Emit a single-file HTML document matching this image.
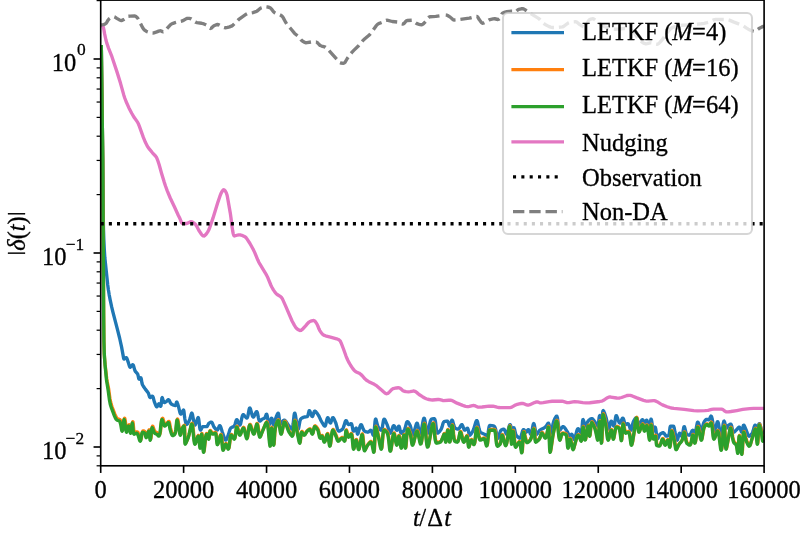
<!DOCTYPE html>
<html lang="en"><head><meta charset="utf-8"><title>LETKF vs Nudging error</title>
<style>html,body{margin:0;padding:0;background:#fff}body{width:800px;height:537px;overflow:hidden}svg text{white-space:pre}</style></head>
<body>
<svg width="800" height="537" viewBox="0 0 800 537" style="display:block">
<rect width="800" height="537" fill="#fff"/>
<defs><clipPath id="ax"><rect x="100.7" y="0.1" width="663.4" height="465.7"/></clipPath></defs>
<g clip-path="url(#ax)" fill="none" stroke-linejoin="round">
<path d="M101.30 45.00 L102.74 157.69 L103.26 215.79 L103.47 228.39 L103.80 238.89 L104.30 249.38 L104.84 257.75 L107.74 284.91 L108.37 289.76 L109.15 294.59 L110.21 300.10 L111.67 306.94 L112.99 312.39 L117.42 329.32 L119.60 338.00 L121.60 347.10 L123.56 357.88 L123.73 358.58 L123.94 359.02 L124.10 359.10 L124.23 359.05 L125.45 357.99 L126.02 357.61 L126.41 357.71 L126.74 358.11 L127.31 359.48 L128.36 362.61 L129.31 365.90 L129.84 367.01 L130.20 367.20 L130.58 366.99 L132.20 365.03 L132.65 364.71 L132.97 364.80 L133.26 365.13 L133.73 366.33 L134.60 369.69 L135.17 371.14 L135.55 371.71 L137.04 373.27 L137.47 373.81 L137.79 374.40 L138.02 375.15 L138.69 378.46 L138.90 378.97 L139.20 379.20 L139.58 378.90 L140.65 377.71 L140.90 377.80 L141.26 378.73 L141.93 382.95 L142.20 384.00 L142.62 384.99 L143.69 386.81 L145.30 389.14 L147.49 391.90 L148.27 393.05 L148.59 393.72 L149.61 396.88 L149.90 397.38 L150.30 397.60 L150.74 397.37 L151.98 396.25 L152.30 396.10 L152.71 396.35 L153.20 397.49 L154.28 401.56 L155.77 405.45 L156.43 406.55 L156.77 406.78 L157.13 406.67 L157.50 406.08 L158.30 404.43 L158.70 403.88 L158.90 403.80 L159.10 403.89 L159.54 404.48 L160.37 406.06 L160.60 406.30 L160.82 406.09 L160.98 405.62 L161.23 404.09 L161.84 398.47 L161.97 397.93 L162.20 397.60 L162.49 398.11 L163.51 401.61 L163.84 402.27 L164.21 402.59 L164.70 402.50 L166.30 401.60 L168.15 399.67 L168.59 399.64 L168.97 399.97 L169.32 400.55 L170.35 402.84 L170.90 403.60 L171.83 404.31 L173.10 404.98 L174.54 405.46 L175.30 405.60 L175.56 405.43 L175.85 404.76 L176.51 402.20 L176.76 402.01 L177.02 402.28 L177.55 403.61 L178.76 407.56 L179.93 412.57 L180.37 413.66 L180.61 413.97 L180.90 414.10 L181.19 413.90 L181.58 413.32 L183.17 410.21 L183.41 410.00 L183.58 410.11 L183.73 410.41 L184.06 412.18 L184.52 416.57 L184.88 419.01 L185.81 423.14 L186.28 424.28 L186.54 424.49 L186.84 424.41 L187.62 423.54 L188.49 422.11 L189.50 420.10 L190.09 418.41 L191.16 414.27 L191.55 413.30 L191.80 413.10 L192.13 413.42 L192.49 414.47 L194.02 422.77 L194.39 424.18 L194.78 424.99 L195.00 425.10 L195.23 424.95 L195.49 424.51 L197.76 417.99 L198.10 417.60 L198.34 417.81 L198.63 418.74 L198.87 420.24 L199.76 427.94 L200.06 429.30 L200.43 430.03 L200.64 430.09 L200.92 429.76 L202.12 427.44 L202.61 426.83 L203.10 426.60 L206.62 426.60 L207.09 426.39 L207.49 425.87 L208.60 423.67 L209.05 423.14 L210.34 422.38 L211.00 422.14 L211.50 422.13 L211.90 422.40 L212.25 422.90 L213.47 425.94 L214.10 427.10 L215.75 429.12 L216.80 429.99 L217.24 430.10 L217.63 429.83 L218.00 429.21 L219.32 425.95 L219.70 425.60 L219.92 425.66 L220.19 425.91 L220.46 426.34 L220.97 427.60 L222.20 431.77 L224.61 438.79 L225.18 439.85 L225.46 440.13 L225.76 440.19 L226.06 440.00 L226.38 439.56 L227.36 437.37 L228.50 434.40 L229.71 430.11 L230.21 428.88 L230.88 427.91 L231.44 427.55 L233.53 426.61 L234.07 426.23 L234.45 425.75 L235.05 424.31 L235.98 420.94 L236.44 419.84 L236.80 419.60 L237.01 419.69 L237.34 420.11 L239.10 424.23 L239.43 424.80 L239.80 425.10 L239.99 425.03 L240.24 424.75 L240.67 423.62 L242.00 417.15 L242.44 415.63 L242.97 414.74 L243.30 414.60 L243.66 414.77 L246.36 417.86 L246.80 418.10 L247.05 418.01 L247.31 417.68 L247.55 417.15 L247.97 415.62 L249.17 409.17 L249.55 408.18 L249.80 408.00 L249.98 408.09 L250.20 408.42 L250.43 408.96 L251.88 414.31 L252.41 415.93 L252.97 416.93 L253.26 417.10 L253.58 416.96 L253.93 416.50 L255.47 413.21 L256.20 411.89 L256.60 411.60 L256.80 411.67 L257.05 411.97 L257.27 412.49 L257.68 414.00 L258.43 417.85 L258.86 419.57 L259.38 420.75 L259.68 421.04 L260.03 421.08 L260.48 420.78 L261.63 419.68 L262.50 419.00 L264.50 418.20 L265.10 417.34 L266.27 414.32 L266.50 414.10 L266.70 414.22 L267.07 415.09 L267.38 416.60 L268.47 424.01 L268.79 424.94 L268.97 425.10 L269.18 424.97 L269.64 423.86 L270.93 419.30 L271.18 418.63 L271.42 418.21 L271.60 418.10 L271.85 418.36 L272.05 418.91 L273.18 424.29 L273.37 424.84 L273.56 425.09 L273.76 425.02 L273.95 424.69 L274.34 423.49 L275.38 419.25 L276.49 416.17 L277.44 413.91 L277.98 413.14 L278.19 413.13 L278.55 413.79 L278.83 415.15 L279.57 420.98 L279.87 422.65 L280.23 423.77 L280.44 424.05 L280.69 424.08 L281.02 423.77 L282.43 421.68 L283.49 420.39 L283.98 420.11 L284.44 420.15 L284.89 420.37 L285.78 421.23 L288.91 425.87 L290.93 428.44 L291.37 428.90 L291.68 429.10 L291.90 429.03 L292.29 428.41 L292.78 426.52 L293.16 423.85 L294.07 415.24 L294.40 413.55 L294.65 413.11 L294.79 413.14 L295.07 413.67 L295.50 415.45 L296.99 425.01 L297.45 427.40 L297.77 428.49 L297.92 428.85 L298.20 429.10 L298.39 428.94 L298.67 428.09 L299.86 421.39 L300.31 419.90 L300.70 419.10 L301.36 418.44 L301.96 418.04 L303.36 417.37 L304.75 416.99 L306.94 416.69 L307.36 416.49 L307.68 416.02 L307.95 415.31 L308.99 411.10 L309.22 410.69 L309.40 410.60 L309.76 410.91 L310.06 411.48 L311.62 415.77 L311.93 416.33 L312.24 416.59 L312.53 416.47 L312.80 415.99 L313.89 412.50 L314.19 411.75 L314.51 411.25 L314.86 411.10 L315.26 411.26 L315.71 411.63 L316.71 412.79 L318.50 415.42 L319.17 416.64 L320.95 420.48 L322.50 423.22 L323.80 425.28 L324.56 426.03 L324.88 426.09 L325.16 425.87 L325.42 425.41 L325.89 423.93 L326.95 419.24 L327.40 417.97 L327.64 417.66 L327.90 417.63 L328.18 417.97 L329.70 422.14 L330.01 422.76 L330.40 423.10 L330.60 423.00 L330.89 422.55 L332.31 418.31 L332.61 417.78 L332.92 417.60 L333.24 417.76 L333.93 418.75 L335.90 423.23 L337.47 428.99 L337.96 430.27 L338.55 431.05 L338.90 431.19 L339.33 431.15 L339.92 430.92 L341.30 430.11 L342.46 429.15 L342.83 428.64 L343.17 428.01 L343.76 426.45 L345.19 421.65 L345.71 420.78 L346.10 420.60 L346.32 420.72 L346.65 421.24 L347.71 423.73 L348.13 424.35 L348.60 424.60 L349.19 424.44 L351.10 423.60 L351.46 423.80 L351.73 424.29 L351.96 424.99 L353.02 430.39 L353.24 430.92 L353.51 431.18 L353.84 431.07 L354.30 430.54 L355.77 428.35 L356.10 428.10 L356.33 428.31 L356.69 429.69 L357.27 433.44 L357.42 434.00 L357.60 434.20 L357.80 434.06 L358.22 433.13 L360.13 426.04 L360.67 424.91 L361.10 424.60 L361.49 424.87 L361.77 425.34 L363.30 429.27 L364.06 430.66 L364.49 431.12 L365.00 431.43 L366.37 431.97 L367.76 432.20 L368.40 431.96 L370.21 430.41 L370.70 430.20 L371.09 430.40 L371.48 430.95 L373.00 434.97 L373.19 435.20 L373.36 435.12 L373.51 434.87 L373.79 433.96 L374.12 431.74 L375.07 421.23 L375.39 419.54 L375.52 419.25 L375.70 419.10 L375.96 419.42 L376.12 419.87 L377.31 424.65 L378.11 426.93 L378.46 427.53 L379.50 428.86 L380.62 429.92 L381.20 430.20 L381.61 429.92 L381.83 429.48 L382.22 428.11 L383.28 421.45 L383.61 420.00 L384.00 419.19 L384.23 419.10 L384.49 419.25 L384.79 419.61 L385.46 420.81 L387.43 425.42 L387.95 426.96 L389.12 431.16 L389.58 432.42 L389.83 432.86 L390.08 433.12 L390.30 433.20 L390.60 433.01 L391.15 431.90 L392.89 426.66 L393.21 426.07 L393.53 425.70 L393.80 425.60 L394.22 425.88 L394.60 426.47 L396.20 429.67 L396.57 430.11 L396.80 430.20 L397.25 429.75 L398.48 426.45 L398.75 426.11 L399.01 426.22 L399.46 427.31 L400.27 431.05 L400.74 432.60 L401.01 433.05 L401.30 433.20 L401.73 433.04 L402.25 432.65 L403.39 431.46 L404.30 430.20 L404.62 429.58 L405.15 428.05 L406.39 423.09 L406.84 422.02 L407.10 421.71 L407.40 421.60 L407.73 421.73 L408.59 422.70 L409.49 424.16 L410.20 425.60 L410.87 427.84 L412.01 433.67 L412.34 434.65 L412.52 434.92 L412.72 435.00 L412.93 434.88 L413.15 434.56 L413.61 433.45 L416.09 424.59 L416.56 423.50 L416.79 423.20 L417.00 423.10 L417.21 423.22 L417.41 423.55 L417.81 424.75 L419.30 432.20 L419.66 433.53 L419.84 433.95 L420.10 434.20 L420.37 434.00 L420.55 433.68 L421.07 431.97 L423.09 420.80 L423.58 418.88 L423.91 418.21 L424.10 418.10 L424.40 418.40 L424.87 419.95 L426.72 431.02 L427.21 432.74 L427.55 433.19 L427.72 433.16 L427.88 432.96 L428.32 431.55 L429.53 424.53 L430.36 421.13 L430.89 419.90 L431.19 419.46 L431.60 419.10 L432.01 418.95 L434.14 418.60 L434.42 418.72 L434.90 419.44 L435.28 420.70 L435.57 422.36 L436.58 430.94 L437.07 432.72 L437.28 433.04 L437.52 433.19 L437.80 433.14 L438.20 432.88 L439.20 431.86 L440.27 430.50 L441.20 429.10 L442.00 427.09 L443.06 423.23 L443.61 422.12 L443.94 421.75 L444.36 421.54 L445.01 421.37 L446.60 421.14 L447.20 421.10 L447.62 421.31 L447.99 421.88 L448.32 422.68 L449.16 425.32 L449.43 425.89 L449.70 426.10 L449.97 425.90 L450.24 425.37 L451.46 420.95 L451.71 420.37 L452.00 420.10 L452.20 420.19 L452.44 420.51 L452.66 421.02 L453.77 425.13 L454.33 426.77 L454.65 427.43 L455.20 428.10 L456.07 428.57 L457.57 429.03 L458.20 429.10 L458.72 428.92 L459.21 428.43 L459.68 427.74 L460.94 425.41 L461.33 424.87 L461.71 424.61 L462.08 424.71 L462.41 425.15 L462.73 425.84 L463.94 429.30 L464.29 429.88 L464.67 430.18 L465.13 430.08 L466.88 428.34 L467.30 428.10 L467.62 428.28 L467.90 428.76 L468.13 429.47 L469.11 434.06 L469.34 434.71 L469.59 435.11 L469.80 435.20 L470.25 434.98 L471.14 433.94 L472.84 431.12 L473.74 428.95 L475.90 421.81 L476.34 420.93 L476.56 420.69 L476.80 420.60 L477.01 420.68 L477.21 420.93 L477.57 421.85 L479.18 429.35 L479.67 430.87 L480.27 432.03 L480.63 432.43 L481.14 432.77 L484.40 434.20 L486.48 435.56 L486.90 435.70 L487.22 435.56 L487.48 435.20 L487.70 434.65 L488.06 433.10 L488.93 427.39 L489.34 426.04 L489.59 425.62 L489.89 425.41 L491.78 425.59 L493.39 425.90 L494.00 426.10 L494.64 426.73 L495.22 427.94 L495.70 429.55 L497.21 436.59 L497.59 437.69 L497.79 438.02 L498.10 438.20 L498.46 437.88 L498.67 437.41 L499.96 432.52 L500.54 431.01 L501.10 430.20 L501.92 429.66 L502.65 429.33 L503.60 429.10 L503.84 429.15 L504.27 429.53 L505.04 431.01 L506.03 433.52 L506.33 434.03 L506.60 434.20 L506.90 434.05 L507.17 433.68 L507.66 432.38 L509.24 426.02 L509.71 424.90 L510.10 424.60 L510.22 424.66 L510.47 425.10 L511.26 427.74 L511.56 428.53 L511.89 429.02 L512.10 429.10 L512.28 429.02 L513.35 427.75 L513.60 427.60 L514.02 427.83 L514.48 428.83 L515.62 433.80 L516.18 435.16 L517.08 436.33 L518.29 437.47 L518.88 437.89 L519.70 438.20 L520.19 437.96 L520.82 436.89 L522.65 430.82 L522.94 430.21 L523.27 429.79 L523.62 429.61 L524.03 429.76 L525.53 431.75 L526.03 432.16 L526.20 432.20 L526.49 432.07 L526.94 431.47 L527.79 429.93 L528.18 429.60 L528.56 429.80 L529.29 431.18 L530.28 433.70 L530.56 434.13 L530.70 434.20 L531.05 433.94 L531.28 433.50 L531.69 432.12 L533.10 424.78 L533.46 423.79 L533.70 423.60 L534.02 423.96 L534.37 425.10 L535.82 432.47 L536.27 433.71 L536.52 434.07 L536.80 434.20 L537.09 434.05 L537.44 433.62 L539.21 430.83 L539.80 430.20 L540.84 429.55 L544.03 427.94 L545.30 427.10 L546.19 426.04 L547.90 423.39 L548.30 423.10 L548.46 423.16 L548.69 423.45 L549.09 424.63 L550.31 431.99 L550.60 433.01 L550.76 433.19 L550.93 433.15 L551.24 432.64 L551.54 431.65 L552.96 424.21 L553.57 421.80 L554.06 420.42 L555.16 418.04 L555.93 416.72 L556.27 416.30 L556.60 416.10 L556.77 416.16 L556.98 416.40 L557.48 418.02 L558.75 427.42 L559.07 428.89 L559.46 429.87 L559.68 430.12 L559.90 430.20 L560.25 429.95 L561.64 427.84 L562.17 427.16 L562.67 426.70 L563.15 426.61 L563.61 426.79 L564.08 427.15 L565.04 428.27 L567.24 431.57 L568.71 434.59 L569.42 435.78 L569.79 436.11 L570.18 436.18 L570.61 435.67 L571.46 434.26 L571.60 434.20 L571.83 434.29 L572.17 434.74 L572.51 435.47 L573.72 438.82 L574.10 439.20 L574.28 439.15 L574.54 438.89 L575.03 437.83 L576.87 430.63 L577.37 429.30 L577.65 428.87 L578.10 428.60 L578.63 429.02 L580.75 432.82 L581.10 433.20 L581.36 432.94 L581.62 431.99 L581.82 430.50 L582.52 421.81 L582.71 420.47 L582.95 419.71 L583.10 419.60 L583.26 419.78 L583.46 420.27 L584.47 423.82 L585.04 425.44 L585.32 425.93 L585.60 426.10 L585.88 425.93 L586.16 425.48 L587.37 422.39 L588.10 421.10 L589.14 420.03 L590.38 419.07 L591.00 418.76 L591.70 418.60 L592.11 418.69 L592.64 419.03 L593.15 419.55 L595.02 422.03 L597.14 425.55 L597.45 425.95 L597.70 426.10 L597.89 425.97 L598.07 425.61 L598.35 424.32 L599.10 417.61 L599.49 415.81 L599.70 415.60 L599.84 415.74 L601.16 419.77 L601.37 420.09 L601.54 420.00 L601.70 419.63 L601.96 418.30 L602.76 411.72 L603.04 410.73 L603.20 410.60 L603.63 411.02 L604.45 412.82 L606.20 418.10 L606.82 420.86 L607.96 427.54 L608.26 428.56 L608.42 428.89 L608.70 429.10 L608.96 428.81 L609.15 428.28 L610.65 422.08 L610.89 421.50 L611.14 421.16 L611.40 421.13 L611.70 421.49 L613.06 424.84 L613.65 426.01 L613.88 426.08 L614.09 425.86 L614.27 425.43 L614.60 424.04 L615.58 417.38 L615.91 416.10 L616.09 415.74 L616.29 415.60 L616.51 415.74 L617.02 416.78 L618.21 420.34 L618.86 422.00 L619.19 422.60 L619.52 422.99 L619.85 423.10 L620.19 422.85 L620.92 421.51 L622.04 418.96 L622.40 418.38 L622.74 418.11 L623.05 418.22 L623.33 418.64 L623.60 419.30 L624.62 422.91 L625.25 424.26 L625.63 424.57 L625.80 424.60 L627.80 423.60 L628.36 423.92 L629.06 425.24 L630.42 429.55 L630.66 430.02 L630.89 430.20 L631.12 430.10 L631.32 429.81 L631.69 428.74 L632.73 423.71 L633.40 421.60 L634.68 419.34 L635.64 418.10 L636.06 417.73 L636.41 417.60 L636.70 417.78 L636.95 418.24 L637.40 419.77 L638.20 423.56 L638.65 424.82 L638.91 425.08 L639.21 425.01 L639.53 424.62 L641.46 420.66 L641.86 420.04 L642.26 419.67 L642.65 419.65 L643.02 420.13 L643.79 421.78 L644.18 422.42 L644.50 422.60 L645.07 422.17 L646.46 420.16 L646.77 420.15 L647.04 420.47 L647.53 421.81 L648.68 427.26 L648.86 427.79 L649.10 428.10 L649.37 427.74 L649.70 426.46 L650.73 420.00 L651.02 419.15 L651.16 419.12 L651.44 419.72 L651.70 421.00 L652.61 427.74 L652.90 429.45 L653.21 430.67 L653.56 431.19 L653.76 431.03 L654.78 427.67 L655.10 427.10 L655.37 427.37 L655.81 429.15 L656.82 436.75 L657.13 438.06 L657.31 438.47 L657.60 438.70 L657.99 438.27 L658.96 436.07 L659.76 434.59 L660.10 434.20 L660.76 433.68 L662.11 432.94 L663.10 432.70 L663.34 432.74 L663.86 433.06 L665.78 435.68 L666.30 436.10 L666.86 436.19 L667.57 435.98 L668.27 435.59 L668.70 435.20 L668.96 434.67 L669.32 433.25 L670.04 427.22 L670.39 426.28 L670.63 426.11 L673.26 426.10 L673.56 426.27 L673.81 426.65 L674.21 427.90 L674.96 432.19 L676.45 438.71 L676.84 439.84 L677.04 440.13 L677.20 440.20 L677.46 439.93 L677.67 439.39 L679.04 434.09 L679.31 433.52 L679.59 433.22 L679.91 433.32 L680.31 433.91 L681.55 436.11 L681.82 436.17 L682.05 435.91 L682.27 435.42 L682.64 433.93 L683.72 427.51 L683.89 426.98 L684.07 426.67 L684.20 426.60 L684.45 426.83 L684.63 427.27 L685.83 432.21 L686.40 433.65 L686.74 434.14 L687.22 434.50 L688.66 435.10 L689.30 435.20 L689.78 435.02 L690.21 434.54 L690.61 433.84 L691.71 431.37 L692.08 430.71 L692.48 430.30 L692.92 430.23 L693.45 430.67 L694.51 432.01 L694.80 432.20 L695.16 432.01 L695.41 431.60 L695.85 430.26 L697.22 423.03 L697.41 422.51 L697.62 422.19 L697.80 422.10 L698.09 422.30 L698.62 423.38 L700.07 427.90 L700.65 429.41 L700.93 429.91 L701.19 430.17 L701.44 430.16 L701.67 429.94 L702.09 428.99 L703.57 423.25 L704.15 421.85 L704.51 421.29 L705.48 420.08 L706.06 419.60 L706.66 419.33 L707.30 419.36 L708.66 419.80 L709.14 419.58 L709.58 418.95 L710.65 416.51 L711.00 416.10 L711.38 416.36 L711.59 416.72 L712.13 418.59 L712.58 421.27 L713.51 428.11 L713.78 429.62 L714.08 430.69 L714.25 431.02 L714.50 431.20 L714.80 430.89 L715.01 430.40 L717.02 422.58 L717.44 421.70 L717.60 421.60 L717.81 421.72 L718.18 422.45 L718.53 423.72 L720.30 433.97 L720.76 435.73 L721.06 436.19 L721.20 436.15 L721.35 435.94 L721.74 434.42 L723.26 423.30 L723.71 421.56 L723.88 421.25 L724.10 421.10 L724.42 421.59 L724.62 422.24 L725.78 426.81 L726.33 427.96 L726.60 428.10 L726.95 427.83 L728.11 425.69 L728.60 425.10 L729.89 424.32 L730.49 424.11 L730.87 424.19 L731.18 424.54 L731.67 425.89 L732.42 429.67 L732.84 431.28 L733.10 431.83 L733.40 432.15 L733.60 432.20 L734.26 431.90 L735.46 430.88 L736.58 429.82 L738.60 427.41 L739.20 427.10 L739.41 427.17 L739.77 427.59 L740.12 428.30 L741.31 431.71 L741.57 432.13 L741.80 432.16 L742.02 431.84 L742.21 431.23 L743.25 425.83 L743.46 425.31 L743.68 425.10 L743.93 425.22 L744.51 426.18 L746.44 430.74 L747.90 434.70 L748.55 435.82 L748.90 436.12 L749.20 436.20 L749.75 436.00 L750.28 435.58 L751.38 434.36 L752.25 433.12 L752.57 432.48 L753.12 430.92 L754.21 426.77 L754.68 425.61 L754.94 425.27 L755.30 425.10 L755.56 425.28 L756.78 427.56 L757.17 428.05 L757.30 428.10 L757.50 428.00 L757.81 427.50 L758.93 424.08 L759.30 423.60 L759.45 423.65 L759.69 423.96 L759.93 424.49 L761.30 429.10 L763.60 434.20" stroke="#1f77b4" stroke-width="3.35" stroke-linecap="butt"/>
<path d="M101.30 45.00 L102.75 157.69 L103.68 315.89 L103.94 341.79 L104.25 353.68 L104.52 357.87 L105.12 364.64 L106.72 378.71 L107.26 381.99 L108.58 388.46 L109.89 398.20 L110.66 402.30 L111.20 404.32 L112.10 406.99 L114.92 414.45 L115.81 416.48 L116.51 417.64 L117.31 418.55 L117.81 418.88 L119.90 419.61 L120.22 420.00 L120.49 420.54 L121.16 422.86 L122.18 428.80 L122.44 429.65 L122.58 429.80 L122.72 429.72 L122.85 429.42 L123.10 428.27 L124.12 419.85 L124.36 418.65 L124.60 418.20 L124.85 418.62 L125.10 419.74 L126.41 429.02 L126.71 430.24 L127.04 430.79 L127.22 430.71 L127.41 430.27 L128.55 425.82 L128.78 425.14 L129.10 424.70 L129.41 425.08 L129.61 425.70 L130.77 431.10 L131.09 431.80 L131.24 431.68 L131.62 429.99 L132.50 422.59 L132.61 422.07 L132.80 421.70 L132.94 421.91 L133.12 422.93 L133.81 430.47 L134.25 432.44 L134.44 432.73 L134.60 432.80 L136.78 431.86 L137.27 431.82 L137.67 432.08 L138.03 432.57 L138.69 434.07 L139.99 438.56 L140.45 439.62 L140.67 439.80 L140.89 439.69 L141.24 438.73 L142.13 433.15 L142.53 431.61 L142.77 431.10 L143.05 430.83 L143.44 430.84 L144.14 431.11 L145.20 431.80 L145.60 432.61 L146.40 435.88 L146.70 436.30 L147.09 435.87 L147.36 435.23 L148.72 430.74 L148.94 430.14 L149.20 429.80 L149.44 430.18 L149.70 431.49 L150.34 437.26 L150.55 438.50 L150.70 438.80 L150.97 438.12 L151.16 436.82 L152.04 428.24 L152.30 426.92 L152.59 426.25 L152.76 426.22 L152.95 426.49 L154.29 430.26 L155.03 431.62 L155.49 432.01 L157.20 432.80 L159.00 434.70 L159.29 434.79 L159.52 434.65 L159.73 434.36 L160.11 433.38 L160.55 431.13 L161.50 422.33 L161.83 419.96 L162.26 418.51 L162.59 418.24 L162.81 418.48 L163.03 419.01 L164.32 423.46 L164.63 424.17 L164.96 424.64 L165.30 424.79 L165.73 424.58 L168.41 421.54 L168.74 421.37 L169.00 421.49 L169.22 421.83 L169.57 423.00 L170.49 428.13 L171.64 432.06 L172.22 433.56 L172.54 434.10 L172.90 434.45 L173.29 434.55 L173.86 434.32 L174.54 433.85 L175.08 433.30 L175.53 432.19 L175.86 430.75 L176.25 428.16 L177.00 420.59 L177.28 419.28 L177.51 419.05 L177.77 419.46 L178.18 421.16 L179.83 431.53 L180.31 433.49 L180.62 434.13 L180.78 434.21 L180.93 434.03 L181.08 433.60 L181.85 429.54 L182.29 428.06 L183.11 426.58 L184.01 425.38 L184.24 425.18 L184.43 425.48 L184.64 426.93 L184.78 429.28 L185.13 440.88 L185.30 442.65 L185.53 443.30 L185.91 442.81 L186.88 440.84 L188.45 436.96 L189.32 433.81 L191.16 425.49 L191.63 423.95 L191.92 423.40 L192.06 423.30 L192.20 423.34 L192.45 423.80 L192.79 425.34 L193.18 428.55 L194.21 439.39 L194.68 442.19 L195.09 443.28 L195.30 443.40 L195.62 443.00 L196.13 441.69 L197.85 436.33 L198.30 435.46 L198.46 435.42 L198.77 436.02 L199.04 437.32 L200.13 446.46 L200.31 447.29 L200.40 447.40 L200.49 447.29 L200.66 446.55 L200.90 444.39 L201.60 434.90 L201.82 433.52 L201.89 433.40 L201.97 433.46 L202.19 434.50 L202.41 436.55 L203.38 448.98 L203.62 450.79 L203.90 451.50 L204.07 451.23 L204.35 449.84 L205.57 438.63 L205.95 436.05 L206.37 434.20 L206.68 433.53 L206.90 433.40 L207.03 433.51 L207.55 434.80 L208.44 437.56 L208.69 438.16 L208.90 438.40 L209.06 438.24 L209.32 437.08 L209.95 431.45 L210.10 430.83 L210.27 430.47 L210.40 430.40 L210.81 430.85 L211.71 432.36 L212.24 433.04 L212.78 433.39 L213.40 433.30 L215.44 432.41 L215.69 432.48 L215.91 432.77 L216.25 433.92 L216.52 435.59 L217.19 442.30 L217.42 443.48 L217.55 443.80 L217.70 443.90 L217.90 443.75 L218.10 443.36 L218.57 442.04 L220.57 435.05 L220.95 434.41 L221.11 434.45 L221.38 435.04 L221.72 436.95 L222.79 447.38 L223.17 449.09 L223.31 449.38 L223.50 449.50 L223.66 449.36 L223.87 448.89 L225.24 444.52 L225.54 443.85 L225.83 443.46 L226.00 443.40 L226.44 443.82 L226.78 444.51 L228.11 447.90 L228.50 448.40 L228.78 448.20 L229.12 447.34 L229.39 445.95 L230.57 436.51 L230.89 435.22 L231.27 434.50 L231.50 434.40 L231.80 434.61 L234.14 438.12 L234.50 438.40 L234.69 438.32 L234.89 438.03 L235.24 436.93 L235.54 435.31 L236.50 427.76 L236.79 426.66 L236.95 426.38 L237.13 426.30 L237.33 426.50 L237.53 426.96 L239.24 433.07 L239.78 434.19 L240.05 434.40 L240.33 434.29 L240.94 433.29 L242.58 428.90 L243.19 427.63 L243.60 427.30 L243.99 427.57 L244.48 428.62 L244.95 430.23 L246.45 436.64 L246.84 437.66 L247.10 437.90 L247.37 437.66 L247.53 437.28 L247.83 436.08 L249.19 426.70 L249.50 425.31 L249.85 424.47 L250.04 424.31 L250.24 424.36 L250.73 425.15 L253.14 432.00 L253.71 433.11 L254.10 433.40 L254.45 433.13 L254.90 432.04 L256.53 424.76 L256.91 423.62 L257.09 423.35 L257.27 423.32 L257.60 423.86 L257.90 425.04 L259.33 434.34 L259.84 436.07 L260.04 436.33 L260.24 436.40 L260.46 436.22 L260.98 435.24 L262.46 431.22 L265.66 423.51 L266.22 422.42 L266.46 422.06 L266.80 421.80 L267.17 422.11 L267.47 422.83 L268.14 426.10 L268.72 430.76 L269.81 442.25 L270.27 445.21 L270.40 445.40 L270.49 445.29 L270.74 443.52 L271.49 430.34 L271.72 427.87 L271.90 427.30 L272.13 428.11 L272.37 430.05 L273.48 442.32 L273.72 443.96 L273.90 444.40 L274.08 444.00 L274.25 442.69 L274.92 432.72 L275.47 427.92 L276.27 424.58 L277.08 422.09 L277.89 420.30 L278.13 419.97 L278.40 419.80 L278.70 420.07 L278.87 420.47 L279.18 421.70 L280.59 431.08 L280.89 432.44 L281.20 433.25 L281.36 433.39 L281.53 433.33 L281.88 432.63 L282.41 430.46 L283.76 423.76 L284.40 421.81 L284.62 421.46 L284.90 421.30 L285.32 421.55 L286.07 422.92 L288.07 428.46 L289.05 430.76 L289.79 432.03 L291.27 434.18 L292.15 435.19 L292.50 435.40 L292.83 435.12 L292.99 434.74 L293.28 433.57 L293.64 431.05 L294.55 421.70 L294.86 420.41 L294.99 420.30 L295.12 420.35 L295.51 421.21 L295.93 422.93 L297.58 432.34 L299.09 439.74 L299.61 441.76 L299.77 442.16 L300.00 442.40 L300.20 442.12 L300.43 441.04 L301.25 433.49 L301.54 432.10 L301.90 431.43 L302.14 431.48 L304.01 434.13 L304.50 434.40 L304.91 434.25 L305.31 433.83 L306.94 431.05 L307.41 430.48 L309.23 429.08 L310.00 428.80 L310.25 428.88 L310.66 429.32 L311.05 430.05 L312.04 432.63 L312.33 433.19 L312.61 433.40 L312.86 433.22 L313.30 432.08 L314.05 428.31 L314.47 426.66 L314.71 426.11 L315.10 425.80 L315.73 426.15 L316.22 426.65 L317.25 427.98 L318.10 429.40 L318.59 430.74 L319.67 435.80 L320.07 436.94 L320.31 437.27 L320.60 437.40 L320.95 437.06 L321.86 435.57 L322.10 435.40 L322.22 435.43 L322.54 435.75 L322.83 436.37 L324.12 440.74 L324.37 441.23 L324.60 441.40 L324.88 441.22 L325.41 440.13 L327.17 434.04 L327.38 433.59 L327.58 433.40 L327.76 433.49 L328.09 434.26 L328.40 435.67 L329.62 444.06 L329.88 445.11 L330.10 445.40 L330.28 445.24 L330.41 444.94 L330.77 443.24 L331.80 434.65 L332.20 431.98 L332.67 430.09 L333.02 429.47 L333.22 429.40 L333.44 429.54 L334.01 430.44 L336.35 435.73 L337.71 439.63 L338.02 440.12 L338.50 440.40 L338.77 440.33 L339.26 439.98 L341.02 438.16 L341.61 437.67 L342.30 437.40 L342.67 437.54 L343.20 438.08 L344.58 440.21 L344.80 440.40 L345.00 440.23 L345.38 438.48 L346.03 430.99 L346.25 430.04 L346.40 429.90 L346.56 430.07 L346.74 430.56 L347.97 435.00 L348.58 436.22 L348.91 436.40 L349.31 436.14 L351.25 433.48 L351.49 433.42 L351.85 433.92 L352.15 435.02 L352.50 437.47 L353.39 446.88 L353.60 447.94 L353.86 448.39 L354.01 448.33 L354.34 447.43 L355.90 440.31 L356.09 439.77 L356.40 439.40 L356.65 439.65 L357.02 440.78 L358.44 448.00 L358.79 448.84 L358.96 448.89 L359.13 448.74 L359.47 447.97 L359.98 445.88 L361.75 435.64 L362.04 434.51 L362.18 434.15 L362.40 433.90 L362.56 434.05 L362.68 434.35 L362.97 436.05 L364.06 447.39 L364.44 449.29 L364.74 449.92 L364.91 450.00 L365.37 449.47 L367.15 445.82 L367.96 444.45 L368.95 443.20 L370.07 442.00 L370.56 441.59 L371.00 441.40 L371.25 441.49 L371.54 441.82 L372.07 443.05 L372.75 445.77 L373.76 450.92 L374.00 451.50 L374.16 451.32 L374.31 450.72 L374.57 448.48 L375.36 430.46 L375.65 427.29 L375.80 426.60 L375.97 426.31 L376.20 426.57 L376.51 427.47 L377.32 430.53 L378.88 437.05 L380.67 446.32 L381.11 447.86 L381.39 448.35 L381.52 448.40 L381.76 448.07 L382.06 446.65 L383.12 434.49 L383.46 431.96 L383.89 430.17 L384.24 429.53 L384.43 429.41 L384.70 429.46 L385.78 430.24 L386.42 430.84 L387.46 432.11 L388.09 433.99 L388.56 436.35 L389.05 439.94 L389.92 448.26 L390.29 450.10 L390.60 450.50 L390.76 450.37 L391.01 449.70 L391.39 447.84 L393.15 435.60 L393.59 433.72 L393.89 433.04 L394.05 432.91 L394.20 432.95 L394.37 433.21 L394.71 434.27 L396.35 442.55 L396.71 443.82 L397.05 444.39 L397.21 444.33 L397.37 444.00 L397.68 442.68 L398.73 436.24 L399.03 435.44 L399.18 435.43 L399.32 435.65 L399.61 436.65 L399.91 438.22 L401.05 445.81 L401.32 446.97 L401.60 447.40 L401.88 446.99 L402.16 445.90 L403.66 435.84 L403.89 434.77 L404.11 434.40 L404.31 434.85 L404.49 435.99 L405.31 445.41 L405.56 447.12 L405.73 447.39 L405.98 446.61 L406.20 444.80 L406.94 435.16 L407.31 431.49 L407.76 428.99 L408.03 428.40 L408.18 428.30 L408.36 428.40 L408.61 428.76 L409.23 430.02 L410.21 432.51 L410.68 433.98 L411.18 436.39 L412.07 442.40 L412.32 443.58 L412.61 444.28 L412.77 444.40 L412.94 444.34 L413.51 443.18 L414.14 440.94 L416.19 432.55 L416.85 430.83 L417.26 430.40 L417.46 430.47 L417.66 430.72 L418.27 432.42 L420.18 441.63 L420.68 443.19 L420.83 443.38 L420.98 443.38 L421.12 443.24 L421.40 442.59 L421.80 440.82 L422.31 437.42 L423.67 425.93 L424.00 424.15 L424.22 423.48 L424.40 423.30 L424.66 423.64 L424.87 424.39 L425.28 426.94 L426.56 439.60 L427.08 443.78 L427.54 445.88 L427.78 446.34 L428.03 446.34 L428.30 445.90 L428.59 445.06 L429.21 442.44 L431.41 429.91 L432.24 425.72 L432.88 423.52 L433.17 422.95 L433.40 422.80 L433.58 422.94 L433.81 423.57 L434.11 425.32 L434.96 434.83 L435.42 438.58 L435.71 440.12 L436.04 441.32 L436.43 442.11 L436.65 442.32 L436.89 442.40 L437.30 442.35 L439.62 441.77 L440.50 441.40 L441.20 440.72 L441.60 440.09 L442.34 438.52 L444.06 433.93 L444.27 433.56 L444.50 433.40 L444.65 433.52 L444.81 433.93 L444.95 434.59 L445.68 440.24 L445.91 441.29 L446.03 441.39 L446.27 440.87 L446.50 439.63 L447.64 430.45 L447.87 429.56 L448.00 429.40 L448.21 429.77 L448.56 431.66 L449.60 440.10 L449.83 441.13 L449.94 441.36 L450.05 441.38 L450.37 440.47 L450.69 438.45 L451.92 427.04 L452.23 425.32 L452.50 424.80 L452.74 425.24 L452.90 426.15 L453.61 433.73 L454.08 437.32 L454.56 439.43 L455.00 440.40 L455.41 440.72 L456.17 441.06 L457.50 441.40 L457.85 441.26 L458.14 440.89 L458.40 440.32 L458.85 438.75 L460.04 432.39 L460.41 431.51 L460.62 431.40 L460.84 431.55 L461.27 432.48 L463.07 439.64 L463.57 440.90 L463.82 441.26 L464.10 441.40 L464.38 441.23 L464.70 440.75 L466.72 435.86 L467.10 435.40 L467.34 435.63 L467.75 437.42 L468.60 444.98 L468.85 446.09 L469.10 446.40 L469.35 446.07 L469.55 445.49 L470.72 440.94 L471.26 439.65 L471.54 439.41 L471.84 439.54 L472.19 440.07 L473.69 443.37 L473.97 443.82 L474.18 443.88 L474.54 443.43 L474.85 442.42 L475.24 440.14 L476.37 429.62 L476.72 427.87 L476.86 427.53 L477.10 427.30 L477.30 427.49 L477.60 428.39 L478.93 435.63 L479.37 437.36 L479.88 438.67 L480.16 439.10 L480.47 439.35 L480.81 439.39 L483.60 438.07 L484.20 437.90 L484.51 438.02 L484.83 438.44 L485.13 439.10 L485.64 440.86 L486.48 444.42 L486.85 445.19 L487.03 445.15 L487.20 444.94 L487.62 443.48 L488.70 434.11 L489.13 431.55 L489.71 429.86 L489.95 429.56 L490.30 429.40 L494.30 429.40 L494.56 429.47 L494.80 429.71 L495.02 430.09 L495.38 431.23 L495.66 432.78 L496.67 442.39 L497.12 444.44 L497.52 445.21 L497.90 445.40 L498.63 445.06 L499.94 444.00 L500.40 443.40 L501.03 441.35 L501.92 435.45 L502.20 434.57 L502.40 434.40 L502.74 434.76 L503.17 435.90 L505.29 443.88 L505.71 444.77 L505.89 444.90 L506.07 444.83 L506.59 443.86 L507.09 441.93 L507.72 438.37 L509.24 428.02 L509.59 426.39 L509.80 425.86 L509.91 425.80 L510.20 426.52 L510.46 428.36 L511.43 440.72 L511.80 443.28 L511.88 443.40 L511.96 443.34 L512.19 442.03 L512.97 432.63 L513.23 430.79 L513.41 430.40 L513.59 430.76 L513.84 432.37 L514.90 442.83 L515.31 445.08 L515.63 446.04 L515.80 446.30 L515.98 446.40 L516.23 446.25 L518.90 441.95 L519.27 441.52 L519.50 441.40 L519.78 441.58 L520.20 442.56 L520.59 444.16 L521.63 450.73 L521.86 451.77 L522.00 452.00 L522.15 451.82 L522.32 451.14 L522.53 449.35 L523.34 435.05 L523.63 432.39 L523.90 431.46 L524.01 431.40 L524.13 431.54 L524.26 431.89 L525.57 437.80 L526.35 440.42 L526.94 441.55 L527.26 441.83 L527.60 441.89 L528.07 441.69 L529.31 440.75 L530.39 439.57 L530.72 439.02 L531.31 437.65 L531.83 436.00 L533.40 429.51 L533.71 428.62 L534.01 428.30 L534.27 428.73 L534.47 429.84 L535.34 439.23 L535.75 441.03 L535.93 441.31 L536.12 441.40 L536.46 441.26 L537.60 440.44 L538.88 439.26 L539.60 438.40 L540.10 437.41 L540.38 436.61 L541.34 433.38 L541.59 432.83 L541.86 432.49 L542.18 432.41 L542.54 432.67 L542.96 433.22 L545.13 437.01 L545.60 437.40 L545.99 437.13 L546.47 436.09 L546.92 434.49 L548.30 427.22 L548.61 426.30 L548.77 426.54 L548.91 427.20 L549.14 429.53 L549.90 447.58 L550.15 450.64 L550.27 451.28 L550.40 451.50 L550.55 451.31 L550.72 450.76 L551.10 448.76 L552.80 436.92 L553.60 432.40 L554.91 426.24 L555.72 422.96 L556.30 421.17 L556.65 420.48 L556.90 420.30 L557.10 420.44 L557.36 421.10 L557.71 422.90 L559.04 435.30 L559.41 437.58 L559.83 439.03 L559.99 439.28 L560.20 439.40 L560.51 438.89 L561.69 434.54 L562.33 433.19 L562.69 432.91 L563.18 432.93 L564.77 433.25 L566.15 433.77 L566.40 434.06 L566.59 434.48 L567.02 436.47 L567.33 439.15 L567.82 445.47 L567.98 446.66 L568.18 447.31 L568.30 447.40 L568.43 447.25 L568.57 446.83 L569.85 439.71 L570.20 438.60 L570.40 438.40 L570.72 438.80 L571.08 439.98 L572.63 447.35 L573.03 448.52 L573.24 448.82 L573.40 448.90 L573.66 448.63 L574.10 447.35 L576.99 436.69 L577.46 435.44 L577.96 434.64 L578.40 434.40 L578.79 434.71 L579.49 436.05 L581.14 440.11 L581.40 440.40 L581.66 440.11 L581.92 439.15 L582.14 437.68 L582.99 428.15 L583.15 426.94 L583.34 426.34 L583.44 426.32 L583.54 426.50 L583.74 427.41 L584.76 436.68 L585.10 438.75 L585.33 439.37 L585.46 439.38 L585.58 439.20 L586.00 437.71 L587.70 427.50 L588.13 425.73 L588.38 425.30 L588.50 425.40 L588.72 426.31 L589.52 433.76 L589.72 435.01 L589.82 435.33 L589.93 435.39 L590.12 434.90 L590.30 433.75 L591.23 424.30 L591.62 422.35 L591.77 421.99 L592.00 421.80 L592.39 422.12 L592.72 422.59 L593.49 423.94 L594.62 426.35 L595.15 427.74 L596.00 430.98 L597.50 438.21 L597.76 439.06 L598.00 439.40 L598.29 438.81 L598.65 436.36 L599.63 423.10 L599.88 421.06 L600.00 420.80 L600.07 420.88 L600.26 421.85 L600.44 423.71 L601.36 439.71 L601.56 441.89 L601.71 442.40 L601.89 441.57 L602.08 438.73 L602.90 417.90 L603.18 414.87 L603.30 414.17 L603.50 413.80 L603.86 414.63 L604.36 416.53 L606.00 424.30 L606.47 427.30 L607.61 436.76 L607.95 438.46 L608.35 439.33 L608.50 439.40 L608.65 439.28 L609.02 438.38 L610.80 431.17 L611.22 429.89 L611.42 429.53 L611.60 429.40 L611.77 429.55 L612.09 430.59 L613.25 437.75 L613.57 438.40 L613.74 438.33 L613.89 438.05 L614.19 436.99 L615.11 431.52 L615.69 428.72 L616.16 427.29 L616.43 426.78 L616.72 426.45 L617.10 426.30 L618.31 426.73 L618.97 427.15 L619.26 427.58 L619.72 428.77 L620.41 432.12 L621.26 438.80 L621.44 439.65 L621.63 439.89 L621.89 439.04 L622.11 437.05 L622.88 425.59 L623.13 423.84 L623.40 423.30 L623.70 424.07 L624.70 429.48 L625.17 431.17 L625.44 431.80 L625.74 432.22 L626.10 432.40 L628.61 431.40 L628.89 431.51 L629.39 432.28 L629.80 433.63 L630.14 435.39 L631.16 442.88 L631.41 443.98 L631.69 444.40 L631.84 444.33 L632.14 443.78 L632.74 441.39 L634.50 430.57 L635.85 420.21 L636.30 417.99 L636.53 417.43 L636.70 417.30 L636.88 417.53 L637.00 417.91 L637.22 419.08 L638.24 427.66 L638.65 430.05 L638.97 431.05 L639.13 431.32 L639.31 431.40 L639.52 431.23 L639.77 430.79 L641.67 425.68 L642.30 424.30 L642.58 423.92 L642.83 423.80 L643.06 424.04 L643.27 424.59 L644.24 429.16 L644.43 429.86 L644.64 430.30 L644.80 430.40 L645.10 430.07 L645.36 429.42 L646.64 425.14 L646.85 424.82 L647.03 424.85 L647.39 425.46 L647.90 427.40 L648.37 430.15 L649.43 437.67 L649.65 438.82 L649.90 439.40 L650.11 438.87 L650.33 437.03 L651.07 425.81 L651.29 424.44 L651.38 424.31 L651.47 424.36 L651.81 426.23 L652.77 434.85 L653.06 436.51 L653.39 437.73 L653.76 438.35 L653.97 438.37 L654.33 437.92 L655.69 435.62 L655.90 435.40 L656.04 435.57 L656.27 437.27 L656.57 442.73 L656.78 444.06 L656.95 444.48 L657.46 444.83 L658.25 445.15 L659.03 445.36 L659.56 445.38 L659.97 445.11 L660.35 444.59 L661.01 443.03 L662.12 439.51 L662.39 438.89 L662.67 438.51 L662.90 438.40 L663.24 438.67 L663.52 439.23 L664.88 443.59 L665.17 444.15 L665.45 444.40 L665.76 444.24 L666.08 443.72 L667.70 439.68 L667.97 439.40 L668.20 439.54 L668.66 440.70 L669.79 445.98 L669.93 446.34 L670.06 446.38 L670.38 445.43 L670.64 443.33 L671.53 432.04 L671.82 430.61 L671.93 430.43 L672.05 430.42 L672.36 430.94 L672.92 432.76 L674.51 439.45 L675.84 447.67 L676.16 448.60 L676.50 448.90 L676.78 448.71 L677.06 448.29 L678.82 444.59 L679.50 443.40 L681.52 441.14 L682.00 440.40 L682.69 438.44 L683.82 433.38 L684.33 432.00 L684.50 431.90 L684.68 432.00 L684.98 432.72 L686.10 439.24 L686.49 440.89 L686.98 442.18 L687.31 442.68 L688.57 443.70 L689.86 444.36 L690.23 444.38 L690.53 444.15 L690.80 443.70 L691.28 442.29 L692.51 435.79 L692.84 434.68 L693.01 434.43 L693.19 434.44 L693.56 435.33 L694.59 440.89 L694.91 442.14 L695.10 442.40 L695.35 442.15 L695.62 441.31 L696.00 439.17 L697.32 428.68 L697.72 426.88 L698.00 426.34 L698.15 426.31 L698.31 426.48 L698.64 427.33 L699.18 429.58 L700.70 437.20 L701.25 438.99 L701.42 439.29 L701.60 439.40 L701.90 439.12 L702.30 437.75 L703.33 431.11 L703.85 428.52 L704.29 427.05 L704.85 425.85 L705.83 424.59 L706.41 424.10 L706.99 423.83 L707.54 423.92 L708.71 425.03 L709.22 425.30 L709.66 424.99 L710.09 424.28 L710.84 422.60 L711.20 422.10 L711.53 422.32 L711.71 422.66 L712.16 424.43 L712.51 427.02 L713.42 435.75 L713.80 437.66 L714.11 438.31 L714.30 438.40 L714.50 438.27 L715.03 437.28 L716.98 431.99 L717.55 430.75 L717.78 430.45 L717.97 430.41 L718.15 430.54 L718.49 431.19 L718.96 432.99 L719.37 435.50 L720.86 447.66 L721.16 449.12 L721.37 449.49 L721.57 449.34 L721.77 448.75 L722.25 445.75 L723.79 428.67 L724.10 426.26 L724.39 425.30 L724.52 425.50 L724.65 426.16 L724.88 428.56 L725.77 444.78 L726.04 447.34 L726.28 448.30 L726.40 448.40 L726.59 448.04 L727.02 446.11 L728.26 439.52 L730.01 429.41 L730.45 427.89 L730.74 427.38 L730.90 427.30 L731.16 427.54 L731.52 428.79 L732.77 437.02 L733.51 440.29 L733.98 441.57 L734.39 442.11 L736.01 443.64 L736.50 444.40 L736.99 446.36 L737.72 451.44 L737.99 452.50 L738.23 451.86 L738.43 450.04 L739.13 437.72 L739.32 435.96 L739.50 435.40 L739.77 436.21 L740.05 438.08 L741.59 451.91 L741.94 453.45 L742.02 453.50 L742.16 453.19 L742.52 449.80 L743.31 435.29 L743.60 432.59 L743.76 431.78 L743.95 431.41 L744.18 431.61 L744.46 432.42 L746.12 438.82 L746.90 441.15 L748.33 444.10 L749.12 445.20 L749.46 445.40 L749.76 445.32 L750.04 445.05 L750.31 444.62 L750.81 443.36 L752.19 438.36 L754.65 430.32 L755.27 428.68 L755.59 428.30 L755.85 428.64 L756.19 430.28 L757.22 441.50 L757.45 443.10 L757.60 443.40 L757.69 443.30 L757.91 442.21 L758.10 440.16 L758.93 427.60 L759.26 425.04 L759.57 424.30 L759.85 424.65 L760.23 425.77 L761.60 431.40 L761.89 433.12 L762.54 438.38 L762.87 440.07 L762.99 440.33 L763.12 440.40 L763.42 439.88 L763.74 438.60 L764.30 435.40" stroke="#ff7f0e" stroke-width="3.35" stroke-linecap="butt"/>
<path d="M101.30 45.00 L102.75 157.69 L103.68 315.89 L103.94 341.79 L104.25 353.68 L105.10 365.55 L106.50 380.00 L108.18 390.55 L109.39 399.60 L110.16 403.70 L110.70 405.72 L111.60 408.39 L114.42 415.85 L115.31 417.88 L116.01 419.04 L116.81 419.95 L117.31 420.28 L119.40 421.01 L119.72 421.40 L119.99 421.94 L120.66 424.26 L121.68 430.20 L121.94 431.05 L122.08 431.20 L122.22 431.12 L122.35 430.82 L122.60 429.67 L123.62 421.25 L123.86 420.05 L124.10 419.60 L124.35 420.02 L124.60 421.14 L125.91 430.42 L126.21 431.64 L126.54 432.19 L126.72 432.11 L126.91 431.67 L128.05 427.22 L128.28 426.54 L128.60 426.10 L128.91 426.48 L129.11 427.10 L130.27 432.50 L130.59 433.20 L130.74 433.08 L131.12 431.39 L132.00 423.99 L132.11 423.47 L132.30 423.10 L132.44 423.31 L132.62 424.33 L133.31 431.87 L133.75 433.84 L133.94 434.13 L134.10 434.20 L136.28 433.26 L136.77 433.22 L137.17 433.48 L137.53 433.97 L138.19 435.47 L139.49 439.96 L139.95 441.02 L140.17 441.20 L140.39 441.09 L140.74 440.13 L141.63 434.55 L142.03 433.01 L142.27 432.50 L142.55 432.23 L142.94 432.24 L143.64 432.51 L144.70 433.20 L145.10 434.01 L145.90 437.28 L146.20 437.70 L146.59 437.27 L146.86 436.63 L148.22 432.14 L148.44 431.54 L148.70 431.20 L148.94 431.58 L149.20 432.89 L149.84 438.66 L150.05 439.90 L150.20 440.20 L150.47 439.52 L150.66 438.22 L151.54 429.64 L151.80 428.32 L152.09 427.65 L152.26 427.62 L152.45 427.89 L153.79 431.66 L154.53 433.02 L154.99 433.41 L156.70 434.20 L158.50 436.10 L158.79 436.19 L159.02 436.05 L159.23 435.76 L159.61 434.78 L160.05 432.53 L161.00 423.71 L161.34 421.33 L161.77 419.88 L162.10 419.60 L162.33 419.84 L162.55 420.36 L163.85 424.79 L164.16 425.49 L164.49 425.95 L164.83 426.10 L165.26 425.87 L167.96 422.78 L168.30 422.60 L168.56 422.72 L168.77 423.06 L169.13 424.22 L170.05 429.33 L171.22 433.24 L171.80 434.72 L172.12 435.26 L172.48 435.60 L172.87 435.69 L173.45 435.45 L174.13 434.97 L174.67 434.41 L175.13 433.29 L175.46 431.84 L175.85 429.24 L176.61 421.66 L176.89 420.34 L177.12 420.10 L177.39 420.51 L177.80 422.21 L179.46 432.55 L179.94 434.49 L180.26 435.13 L180.42 435.20 L180.57 435.02 L180.71 434.59 L181.50 430.51 L181.93 429.02 L182.77 427.53 L183.66 426.31 L183.90 426.10 L184.09 426.40 L184.30 427.85 L184.44 430.19 L184.80 441.78 L184.96 443.55 L185.20 444.20 L185.58 443.70 L186.56 441.71 L188.14 437.80 L189.01 434.63 L190.86 426.29 L191.33 424.75 L191.62 424.20 L191.76 424.10 L191.90 424.14 L192.15 424.60 L192.49 426.14 L192.88 429.35 L193.91 440.19 L194.38 442.99 L194.79 444.08 L195.00 444.20 L195.32 443.80 L195.83 442.49 L197.55 437.13 L198.00 436.26 L198.16 436.22 L198.47 436.82 L198.74 438.12 L199.83 447.26 L200.01 448.09 L200.10 448.20 L200.19 448.09 L200.36 447.35 L200.60 445.19 L201.30 435.70 L201.52 434.32 L201.59 434.20 L201.67 434.26 L201.89 435.30 L202.11 437.35 L203.08 449.78 L203.32 451.59 L203.60 452.30 L203.77 452.03 L204.05 450.64 L205.27 439.43 L205.65 436.85 L206.07 435.00 L206.38 434.33 L206.60 434.20 L206.73 434.31 L207.25 435.60 L208.14 438.36 L208.39 438.96 L208.60 439.20 L208.76 439.04 L209.02 437.88 L209.65 432.25 L209.80 431.63 L209.97 431.27 L210.10 431.20 L210.51 431.65 L211.41 433.16 L211.94 433.84 L212.48 434.19 L213.10 434.10 L215.14 433.21 L215.39 433.28 L215.61 433.57 L215.95 434.72 L216.22 436.39 L216.89 443.10 L217.12 444.28 L217.25 444.60 L217.40 444.70 L217.60 444.55 L217.80 444.16 L218.27 442.84 L220.27 435.85 L220.65 435.21 L220.81 435.25 L221.08 435.84 L221.42 437.75 L222.49 448.18 L222.87 449.89 L223.01 450.18 L223.20 450.30 L223.36 450.16 L223.57 449.69 L224.94 445.32 L225.24 444.65 L225.53 444.26 L225.70 444.20 L226.14 444.62 L226.48 445.31 L227.81 448.70 L228.20 449.20 L228.48 449.00 L228.82 448.14 L229.09 446.75 L230.27 437.31 L230.59 436.02 L230.97 435.30 L231.20 435.20 L231.50 435.41 L233.84 438.92 L234.20 439.20 L234.39 439.12 L234.59 438.83 L234.94 437.73 L235.24 436.11 L236.20 428.56 L236.49 427.46 L236.65 427.18 L236.83 427.10 L237.03 427.30 L237.23 427.76 L238.94 433.87 L239.48 434.99 L239.75 435.20 L240.03 435.09 L240.64 434.09 L242.28 429.70 L242.89 428.43 L243.30 428.10 L243.69 428.37 L244.18 429.42 L244.65 431.03 L246.15 437.44 L246.54 438.46 L246.80 438.70 L247.07 438.46 L247.23 438.08 L247.53 436.88 L248.89 427.50 L249.20 426.11 L249.55 425.27 L249.74 425.11 L249.94 425.16 L250.43 425.95 L252.84 432.80 L253.41 433.91 L253.80 434.20 L254.15 433.93 L254.60 432.84 L256.23 425.56 L256.61 424.42 L256.79 424.15 L256.97 424.12 L257.30 424.66 L257.60 425.84 L259.03 435.14 L259.54 436.87 L259.74 437.13 L259.94 437.20 L260.16 437.02 L260.68 436.04 L262.16 432.02 L265.36 424.31 L265.92 423.22 L266.16 422.86 L266.50 422.60 L266.87 422.91 L267.17 423.63 L267.84 426.90 L268.42 431.56 L269.51 443.05 L269.97 446.01 L270.10 446.20 L270.19 446.09 L270.44 444.32 L271.19 431.14 L271.42 428.67 L271.60 428.10 L271.83 428.91 L272.07 430.85 L273.18 443.12 L273.42 444.76 L273.60 445.20 L273.78 444.80 L273.95 443.49 L274.62 433.52 L275.17 428.72 L275.97 425.38 L276.78 422.89 L277.59 421.10 L277.83 420.77 L278.10 420.60 L278.40 420.87 L278.57 421.27 L278.88 422.50 L280.29 431.88 L280.59 433.24 L280.90 434.05 L281.06 434.19 L281.23 434.13 L281.58 433.43 L282.11 431.26 L283.46 424.56 L284.10 422.61 L284.32 422.26 L284.60 422.10 L285.02 422.35 L285.77 423.72 L287.77 429.26 L288.75 431.56 L289.49 432.83 L290.97 434.98 L291.85 435.99 L292.20 436.20 L292.53 435.92 L292.69 435.54 L292.98 434.37 L293.34 431.85 L294.25 422.50 L294.56 421.21 L294.69 421.10 L294.82 421.15 L295.21 422.01 L295.63 423.73 L297.28 433.14 L298.79 440.54 L299.31 442.56 L299.47 442.96 L299.70 443.20 L299.90 442.92 L300.13 441.84 L300.95 434.29 L301.24 432.90 L301.60 432.23 L301.84 432.28 L303.71 434.93 L304.20 435.20 L304.61 435.05 L305.01 434.63 L306.64 431.85 L307.11 431.28 L308.93 429.88 L309.70 429.60 L309.95 429.68 L310.36 430.12 L310.75 430.85 L311.74 433.43 L312.03 433.99 L312.31 434.20 L312.56 434.02 L313.00 432.88 L313.75 429.11 L314.17 427.46 L314.41 426.91 L314.80 426.60 L315.43 426.95 L315.92 427.45 L316.95 428.78 L317.80 430.20 L318.29 431.54 L319.37 436.60 L319.77 437.74 L320.01 438.07 L320.30 438.20 L320.65 437.86 L321.56 436.37 L321.80 436.20 L321.92 436.23 L322.24 436.55 L322.53 437.17 L323.82 441.54 L324.07 442.03 L324.30 442.20 L324.58 442.02 L325.11 440.93 L326.87 434.84 L327.08 434.39 L327.28 434.20 L327.46 434.29 L327.79 435.06 L328.10 436.47 L329.32 444.86 L329.58 445.91 L329.80 446.20 L329.98 446.04 L330.11 445.74 L330.47 444.04 L331.50 435.45 L331.90 432.78 L332.37 430.89 L332.72 430.27 L332.92 430.20 L333.14 430.34 L333.71 431.24 L336.05 436.53 L337.41 440.43 L337.72 440.92 L338.20 441.20 L338.47 441.13 L338.96 440.78 L340.72 438.96 L341.31 438.47 L342.00 438.20 L342.37 438.34 L342.90 438.88 L344.28 441.01 L344.50 441.20 L344.70 441.03 L345.08 439.28 L345.73 431.79 L345.95 430.84 L346.10 430.70 L346.26 430.87 L346.44 431.36 L347.67 435.80 L348.28 437.02 L348.61 437.20 L349.01 436.94 L350.95 434.28 L351.19 434.22 L351.55 434.72 L351.85 435.82 L352.20 438.27 L353.09 447.68 L353.30 448.74 L353.56 449.19 L353.71 449.13 L354.04 448.23 L355.60 441.11 L355.79 440.57 L356.10 440.20 L356.35 440.45 L356.72 441.58 L358.14 448.80 L358.49 449.64 L358.66 449.69 L358.83 449.54 L359.17 448.77 L359.68 446.68 L361.45 436.44 L361.74 435.31 L361.88 434.95 L362.10 434.70 L362.26 434.85 L362.38 435.15 L362.67 436.85 L363.76 448.19 L364.14 450.09 L364.44 450.72 L364.61 450.80 L365.07 450.27 L366.85 446.62 L367.66 445.25 L368.65 444.00 L369.77 442.80 L370.26 442.39 L370.70 442.20 L370.95 442.29 L371.24 442.62 L371.77 443.85 L372.45 446.57 L373.46 451.72 L373.70 452.30 L373.86 452.12 L374.01 451.52 L374.27 449.28 L375.06 431.26 L375.35 428.09 L375.50 427.40 L375.67 427.11 L375.90 427.37 L376.21 428.27 L377.02 431.33 L378.58 437.85 L380.37 447.12 L380.81 448.66 L381.09 449.15 L381.22 449.20 L381.46 448.87 L381.76 447.45 L382.82 435.29 L383.16 432.76 L383.59 430.97 L383.94 430.33 L384.13 430.21 L384.40 430.26 L385.48 431.04 L386.12 431.64 L387.16 432.91 L387.79 434.79 L388.26 437.15 L388.75 440.74 L389.62 449.06 L389.99 450.90 L390.30 451.30 L390.46 451.17 L390.71 450.50 L391.09 448.64 L392.85 436.40 L393.29 434.52 L393.59 433.84 L393.75 433.71 L393.90 433.75 L394.07 434.01 L394.41 435.07 L396.05 443.35 L396.41 444.62 L396.75 445.19 L396.91 445.13 L397.07 444.80 L397.38 443.48 L398.43 437.04 L398.73 436.24 L398.88 436.23 L399.02 436.45 L399.31 437.45 L399.61 439.02 L400.75 446.61 L401.02 447.77 L401.30 448.20 L401.58 447.79 L401.86 446.70 L403.36 436.64 L403.59 435.57 L403.81 435.20 L404.01 435.65 L404.19 436.79 L405.01 446.21 L405.26 447.92 L405.43 448.19 L405.68 447.41 L405.90 445.60 L406.64 435.96 L407.01 432.29 L407.46 429.79 L407.73 429.20 L407.88 429.10 L408.06 429.20 L408.31 429.56 L408.93 430.82 L409.91 433.31 L410.38 434.78 L410.88 437.19 L411.77 443.20 L412.02 444.38 L412.31 445.08 L412.47 445.20 L412.64 445.14 L413.21 443.98 L413.84 441.74 L415.89 433.35 L416.55 431.63 L416.96 431.20 L417.16 431.27 L417.36 431.52 L417.97 433.22 L419.88 442.43 L420.38 443.99 L420.53 444.18 L420.68 444.18 L420.82 444.04 L421.10 443.39 L421.50 441.62 L422.01 438.22 L423.37 426.73 L423.70 424.95 L423.92 424.28 L424.10 424.10 L424.36 424.44 L424.57 425.19 L424.98 427.74 L426.26 440.40 L426.78 444.58 L427.24 446.68 L427.48 447.14 L427.73 447.14 L428.00 446.70 L428.29 445.86 L428.91 443.24 L431.11 430.71 L431.94 426.52 L432.58 424.32 L432.87 423.75 L433.10 423.60 L433.28 423.74 L433.51 424.37 L433.81 426.12 L434.66 435.63 L435.12 439.38 L435.41 440.92 L435.74 442.12 L436.13 442.91 L436.35 443.12 L436.59 443.20 L437.00 443.15 L439.32 442.57 L440.20 442.20 L440.90 441.52 L441.30 440.89 L442.04 439.32 L443.76 434.73 L443.97 434.36 L444.20 434.20 L444.35 434.32 L444.51 434.73 L444.65 435.39 L445.38 441.04 L445.61 442.09 L445.73 442.19 L445.97 441.67 L446.20 440.43 L447.34 431.25 L447.57 430.36 L447.70 430.20 L447.91 430.57 L448.26 432.46 L449.30 440.90 L449.53 441.93 L449.64 442.16 L449.75 442.18 L450.07 441.27 L450.39 439.25 L451.62 427.84 L451.93 426.12 L452.20 425.60 L452.44 426.04 L452.60 426.95 L453.31 434.53 L453.78 438.12 L454.26 440.23 L454.70 441.20 L455.11 441.52 L455.87 441.86 L457.20 442.20 L457.55 442.06 L457.84 441.69 L458.10 441.12 L458.55 439.55 L459.74 433.19 L460.11 432.31 L460.32 432.20 L460.54 432.35 L460.97 433.28 L462.77 440.44 L463.27 441.70 L463.52 442.06 L463.80 442.20 L464.08 442.03 L464.40 441.55 L466.42 436.66 L466.80 436.20 L467.04 436.43 L467.45 438.22 L468.30 445.78 L468.55 446.89 L468.80 447.20 L469.05 446.87 L469.25 446.29 L470.42 441.74 L470.96 440.45 L471.24 440.21 L471.54 440.34 L471.89 440.87 L473.39 444.17 L473.67 444.62 L473.88 444.68 L474.24 444.23 L474.55 443.22 L474.94 440.94 L476.07 430.42 L476.42 428.67 L476.56 428.33 L476.80 428.10 L477.00 428.29 L477.30 429.19 L478.63 436.43 L479.07 438.16 L479.58 439.47 L479.86 439.90 L480.17 440.15 L480.51 440.19 L483.30 438.87 L483.90 438.70 L484.21 438.82 L484.53 439.24 L484.83 439.90 L485.34 441.66 L486.18 445.22 L486.55 445.99 L486.73 445.95 L486.90 445.74 L487.32 444.28 L488.40 434.91 L488.83 432.35 L489.41 430.66 L489.65 430.36 L490.00 430.20 L494.00 430.20 L494.26 430.27 L494.50 430.51 L494.72 430.89 L495.08 432.03 L495.36 433.58 L496.37 443.19 L496.82 445.24 L497.22 446.01 L497.60 446.20 L498.33 445.86 L499.64 444.80 L500.10 444.20 L500.73 442.15 L501.62 436.25 L501.90 435.37 L502.10 435.20 L502.44 435.56 L502.87 436.70 L504.99 444.68 L505.41 445.57 L505.59 445.70 L505.77 445.63 L506.29 444.66 L506.79 442.73 L507.42 439.17 L508.94 428.82 L509.29 427.19 L509.50 426.66 L509.61 426.60 L509.90 427.32 L510.16 429.16 L511.13 441.52 L511.50 444.08 L511.58 444.20 L511.66 444.14 L511.89 442.83 L512.67 433.43 L512.93 431.59 L513.11 431.20 L513.29 431.56 L513.54 433.17 L514.60 443.63 L515.01 445.88 L515.33 446.84 L515.50 447.10 L515.68 447.20 L515.93 447.05 L518.60 442.75 L518.97 442.32 L519.20 442.20 L519.48 442.38 L519.90 443.36 L520.29 444.96 L521.33 451.53 L521.56 452.57 L521.70 452.80 L521.85 452.62 L522.02 451.94 L522.23 450.15 L523.04 435.85 L523.33 433.19 L523.60 432.26 L523.71 432.20 L523.83 432.34 L523.96 432.69 L525.27 438.60 L526.05 441.22 L526.64 442.35 L526.96 442.63 L527.30 442.69 L527.77 442.49 L529.01 441.55 L530.09 440.37 L530.42 439.82 L531.01 438.45 L531.53 436.80 L533.10 430.31 L533.41 429.42 L533.71 429.10 L533.97 429.53 L534.17 430.64 L535.04 440.03 L535.45 441.83 L535.63 442.11 L535.82 442.20 L536.16 442.06 L537.30 441.24 L538.58 440.06 L539.30 439.20 L539.80 438.21 L540.08 437.41 L541.04 434.18 L541.29 433.63 L541.56 433.29 L541.88 433.21 L542.24 433.47 L542.66 434.02 L544.83 437.81 L545.30 438.20 L545.69 437.93 L546.17 436.89 L546.62 435.29 L548.00 428.02 L548.31 427.10 L548.47 427.34 L548.61 428.00 L548.84 430.33 L549.60 448.38 L549.85 451.44 L549.97 452.08 L550.10 452.30 L550.25 452.11 L550.42 451.56 L550.80 449.56 L552.50 437.72 L553.30 433.20 L554.61 427.04 L555.42 423.76 L556.00 421.97 L556.35 421.28 L556.60 421.10 L556.80 421.24 L557.06 421.90 L557.41 423.70 L558.74 436.10 L559.11 438.38 L559.53 439.83 L559.69 440.08 L559.90 440.20 L560.21 439.69 L561.39 435.34 L562.03 433.99 L562.39 433.71 L562.88 433.73 L564.47 434.05 L565.85 434.57 L566.10 434.86 L566.29 435.28 L566.72 437.27 L567.03 439.95 L567.52 446.27 L567.68 447.46 L567.88 448.11 L568.00 448.20 L568.13 448.05 L568.27 447.63 L569.55 440.51 L569.90 439.40 L570.10 439.20 L570.42 439.60 L570.78 440.78 L572.33 448.15 L572.73 449.32 L572.94 449.62 L573.10 449.70 L573.36 449.43 L573.80 448.15 L576.69 437.49 L577.16 436.24 L577.66 435.44 L578.10 435.20 L578.49 435.51 L579.19 436.85 L580.84 440.91 L581.10 441.20 L581.36 440.91 L581.62 439.95 L581.84 438.48 L582.69 428.95 L582.85 427.74 L583.04 427.14 L583.14 427.12 L583.24 427.30 L583.44 428.21 L584.46 437.48 L584.80 439.55 L585.03 440.17 L585.16 440.18 L585.28 440.00 L585.70 438.51 L587.40 428.30 L587.83 426.53 L588.08 426.10 L588.20 426.20 L588.42 427.11 L589.22 434.56 L589.42 435.81 L589.52 436.13 L589.63 436.19 L589.82 435.70 L590.00 434.55 L590.93 425.10 L591.32 423.15 L591.47 422.79 L591.70 422.60 L592.09 422.92 L592.42 423.39 L593.19 424.74 L594.32 427.15 L594.85 428.54 L595.70 431.78 L597.20 439.01 L597.46 439.86 L597.70 440.20 L597.99 439.61 L598.35 437.16 L599.33 423.90 L599.58 421.86 L599.70 421.60 L599.77 421.68 L599.96 422.65 L600.14 424.51 L601.06 440.51 L601.26 442.69 L601.41 443.20 L601.59 442.37 L601.78 439.53 L602.60 418.70 L602.88 415.67 L603.00 414.97 L603.20 414.60 L603.56 415.43 L604.06 417.33 L605.70 425.10 L606.17 428.10 L607.31 437.56 L607.65 439.26 L608.05 440.13 L608.20 440.20 L608.35 440.08 L608.72 439.18 L610.50 431.97 L610.92 430.69 L611.12 430.33 L611.30 430.20 L611.47 430.35 L611.79 431.39 L612.95 438.55 L613.27 439.20 L613.44 439.13 L613.59 438.85 L613.89 437.79 L614.81 432.32 L615.39 429.52 L615.86 428.09 L616.13 427.58 L616.42 427.25 L616.80 427.10 L618.01 427.53 L618.67 427.95 L618.96 428.38 L619.42 429.57 L620.11 432.92 L620.96 439.60 L621.14 440.45 L621.33 440.69 L621.59 439.84 L621.81 437.85 L622.58 426.39 L622.83 424.64 L623.10 424.10 L623.40 424.87 L624.40 430.28 L624.87 431.97 L625.14 432.60 L625.44 433.02 L625.80 433.20 L628.31 432.20 L628.59 432.31 L629.09 433.08 L629.50 434.43 L629.84 436.19 L630.86 443.68 L631.11 444.78 L631.39 445.20 L631.54 445.13 L631.84 444.58 L632.44 442.19 L634.20 431.37 L635.55 421.01 L636.00 418.79 L636.23 418.23 L636.40 418.10 L636.58 418.33 L636.70 418.71 L636.92 419.88 L637.94 428.46 L638.35 430.85 L638.67 431.85 L638.83 432.12 L639.01 432.20 L639.22 432.03 L639.47 431.59 L641.37 426.48 L642.00 425.10 L642.28 424.72 L642.53 424.60 L642.76 424.84 L642.97 425.39 L643.94 429.96 L644.13 430.66 L644.34 431.10 L644.50 431.20 L644.80 430.87 L645.06 430.22 L646.34 425.94 L646.55 425.62 L646.73 425.65 L647.09 426.26 L647.60 428.20 L648.07 430.95 L649.13 438.47 L649.35 439.62 L649.60 440.20 L649.81 439.67 L650.03 437.83 L650.77 426.61 L650.99 425.24 L651.08 425.11 L651.17 425.16 L651.51 427.03 L652.47 435.65 L652.76 437.31 L653.09 438.53 L653.46 439.15 L653.67 439.17 L654.03 438.72 L655.39 436.42 L655.60 436.20 L655.74 436.37 L655.97 438.07 L656.27 443.53 L656.48 444.86 L656.65 445.28 L657.16 445.63 L657.95 445.95 L658.73 446.16 L659.26 446.18 L659.67 445.91 L660.05 445.39 L660.71 443.83 L661.82 440.31 L662.09 439.69 L662.37 439.31 L662.60 439.20 L662.94 439.47 L663.22 440.03 L664.58 444.39 L664.87 444.95 L665.15 445.20 L665.46 445.04 L665.78 444.52 L667.40 440.48 L667.67 440.20 L667.90 440.34 L668.36 441.50 L669.49 446.78 L669.63 447.14 L669.76 447.18 L670.08 446.23 L670.34 444.13 L671.23 432.84 L671.52 431.41 L671.63 431.23 L671.75 431.22 L672.06 431.74 L672.62 433.56 L674.21 440.25 L675.54 448.47 L675.86 449.40 L676.20 449.70 L676.48 449.51 L676.76 449.09 L678.52 445.39 L679.20 444.20 L681.22 441.94 L681.70 441.20 L682.39 439.24 L683.52 434.18 L684.03 432.80 L684.20 432.70 L684.38 432.80 L684.68 433.52 L685.80 440.04 L686.19 441.69 L686.68 442.98 L687.01 443.48 L688.27 444.50 L689.56 445.16 L689.93 445.18 L690.23 444.95 L690.50 444.50 L690.98 443.09 L692.21 436.59 L692.54 435.48 L692.71 435.23 L692.89 435.24 L693.26 436.13 L694.29 441.69 L694.61 442.94 L694.80 443.20 L695.05 442.95 L695.32 442.11 L695.70 439.97 L697.02 429.48 L697.42 427.68 L697.70 427.14 L697.85 427.11 L698.01 427.28 L698.34 428.13 L698.88 430.38 L700.40 438.00 L700.95 439.79 L701.12 440.09 L701.30 440.20 L701.60 439.92 L702.00 438.55 L703.03 431.91 L703.55 429.32 L703.99 427.85 L704.55 426.65 L705.53 425.39 L706.11 424.90 L706.69 424.63 L707.24 424.72 L708.41 425.83 L708.92 426.10 L709.36 425.79 L709.79 425.08 L710.54 423.40 L710.90 422.90 L711.23 423.12 L711.41 423.46 L711.86 425.23 L712.21 427.82 L713.12 436.55 L713.50 438.46 L713.81 439.11 L714.00 439.20 L714.20 439.07 L714.73 438.08 L716.68 432.79 L717.25 431.55 L717.48 431.25 L717.67 431.21 L717.85 431.34 L718.19 431.99 L718.66 433.79 L719.07 436.30 L720.56 448.46 L720.86 449.92 L721.07 450.29 L721.27 450.14 L721.47 449.55 L721.95 446.55 L723.49 429.47 L723.80 427.06 L724.09 426.10 L724.22 426.30 L724.35 426.96 L724.58 429.36 L725.47 445.58 L725.74 448.14 L725.98 449.10 L726.10 449.20 L726.29 448.84 L726.72 446.91 L727.96 440.32 L729.71 430.21 L730.15 428.69 L730.44 428.18 L730.60 428.10 L730.86 428.34 L731.22 429.59 L732.47 437.82 L733.21 441.09 L733.68 442.37 L734.09 442.91 L735.71 444.44 L736.20 445.20 L736.69 447.16 L737.42 452.24 L737.69 453.30 L737.93 452.66 L738.13 450.84 L738.83 438.52 L739.02 436.76 L739.20 436.20 L739.47 437.01 L739.75 438.88 L741.29 452.71 L741.64 454.25 L741.72 454.30 L741.86 453.99 L742.22 450.60 L743.01 436.09 L743.30 433.39 L743.46 432.58 L743.65 432.21 L743.88 432.41 L744.16 433.22 L745.82 439.62 L746.60 441.95 L748.03 444.90 L748.82 446.00 L749.16 446.20 L749.46 446.12 L749.74 445.85 L750.01 445.42 L750.51 444.16 L751.89 439.16 L754.35 431.12 L754.97 429.48 L755.29 429.10 L755.55 429.44 L755.89 431.08 L756.92 442.30 L757.15 443.90 L757.30 444.20 L757.39 444.10 L757.61 443.01 L757.80 440.96 L758.63 428.40 L758.96 425.84 L759.27 425.10 L759.55 425.45 L759.93 426.57 L761.30 432.20 L761.59 433.92 L762.24 439.18 L762.57 440.87 L762.69 441.13 L762.82 441.20 L763.12 440.68 L763.44 439.40 L764.00 436.20" stroke="#2ca02c" stroke-width="3.35" stroke-linecap="butt"/>
<path d="M101.30 24.90 L102.29 25.32 L102.50 25.50 L103.13 26.65 L103.43 27.52 L103.88 29.54 L104.62 33.88 L105.88 39.77 L106.65 42.66 L108.62 48.33 L111.93 56.70 L116.98 71.88 L120.53 83.34 L123.76 94.92 L124.75 98.00 L126.07 101.50 L128.93 107.90 L131.71 113.23 L134.25 117.53 L137.17 121.63 L138.25 123.50 L139.31 126.09 L143.36 137.40 L145.28 142.05 L147.04 145.63 L148.08 147.31 L149.26 148.92 L152.45 152.81 L155.26 155.75 L156.41 157.33 L156.85 158.19 L157.60 160.02 L159.17 164.82 L161.60 173.49 L164.21 182.11 L165.50 186.00 L167.18 190.60 L170.23 197.99 L174.51 207.03 L178.25 215.23 L180.03 218.85 L181.36 222.16 L181.88 222.99 L182.47 223.45 L182.75 223.50 L186.50 223.50 L187.29 223.36 L190.08 221.95 L191.00 221.75 L191.94 221.91 L192.91 222.33 L194.75 223.60 L195.85 224.84 L196.86 226.57 L198.77 230.30 L201.27 233.97 L201.96 234.85 L202.66 235.53 L203.35 235.93 L204.05 235.96 L204.80 235.55 L205.57 234.84 L206.32 233.94 L207.56 232.15 L208.50 230.48 L209.69 227.75 L212.95 218.15 L217.70 202.87 L219.93 196.16 L221.03 193.37 L221.75 192.00 L222.60 190.65 L223.31 189.90 L223.70 189.75 L223.99 189.81 L224.72 190.37 L225.44 191.28 L226.25 192.75 L227.00 194.98 L227.45 196.93 L230.25 212.84 L230.96 217.79 L231.87 225.75 L232.73 231.14 L233.21 233.61 L233.51 234.65 L233.84 235.45 L234.23 235.92 L234.50 236.00 L237.65 235.02 L238.73 234.81 L239.71 234.84 L240.72 235.00 L242.74 235.63 L245.00 236.75 L245.99 237.62 L246.62 238.42 L249.95 243.53 L252.88 248.79 L254.65 252.37 L257.73 259.78 L258.99 262.49 L259.95 264.24 L265.20 272.77 L266.67 275.38 L267.98 278.07 L271.01 285.50 L271.90 287.27 L273.39 289.92 L275.10 292.43 L276.25 293.75 L277.15 294.50 L280.64 296.69 L281.50 297.50 L282.42 298.88 L285.34 305.36 L292.07 321.00 L294.45 325.41 L295.57 327.17 L296.18 327.96 L296.85 328.65 L297.58 329.25 L298.46 329.85 L299.42 330.32 L300.31 330.50 L301.12 330.28 L301.91 329.74 L302.68 329.00 L305.61 325.87 L307.63 323.44 L309.04 322.07 L309.83 321.58 L310.71 321.21 L312.76 320.61 L313.75 320.50 L314.46 320.73 L315.19 321.41 L316.99 324.15 L317.83 325.95 L318.92 328.81 L319.80 330.58 L321.55 333.19 L322.93 334.62 L323.69 335.10 L325.42 335.80 L330.43 337.08 L336.59 338.79 L338.39 339.50 L339.13 339.92 L339.73 340.42 L340.25 341.10 L341.14 342.90 L343.40 348.76 L346.09 356.31 L347.68 359.97 L349.04 362.66 L350.54 365.27 L352.79 368.60 L354.08 370.18 L355.53 371.45 L356.39 371.92 L359.19 373.17 L360.77 374.29 L362.18 375.72 L364.87 378.80 L366.50 380.25 L368.84 381.68 L374.30 384.33 L376.82 385.91 L382.13 390.53 L383.76 392.05 L385.41 393.33 L386.22 393.68 L386.75 393.75 L387.81 393.44 L388.57 392.88 L389.33 392.14 L391.65 389.63 L392.46 388.98 L393.32 388.55 L396.26 387.96 L398.28 387.76 L399.19 387.80 L400.04 388.19 L400.85 388.82 L402.46 390.33 L403.30 390.93 L404.19 391.24 L406.14 391.61 L408.50 391.80 L410.18 391.61 L413.16 391.03 L414.07 391.02 L414.94 391.27 L415.78 391.74 L416.60 392.37 L419.03 394.51 L422.46 396.69 L425.11 398.21 L426.92 398.99 L427.85 399.26 L430.79 399.87 L432.50 400.00 L437.78 399.52 L438.77 399.51 L439.75 399.65 L442.68 400.47 L443.66 400.60 L448.68 400.26 L450.62 400.22 L451.56 400.40 L452.48 400.73 L457.03 403.17 L462.71 405.41 L465.59 406.29 L467.53 406.58 L468.50 406.59 L469.48 406.44 L472.43 405.63 L473.60 405.50 L474.37 405.59 L475.32 405.92 L477.21 406.79 L478.16 407.11 L478.90 407.20 L482.08 407.02 L489.09 406.21 L491.60 406.10 L493.07 406.22 L494.05 406.40 L497.00 407.15 L498.97 407.53 L500.10 407.60 L509.94 407.59 L510.88 407.43 L511.80 407.10 L515.42 405.08 L516.34 404.65 L519.24 403.85 L521.22 403.48 L522.40 403.40 L523.17 403.49 L524.13 403.82 L526.02 404.69 L526.97 405.01 L527.92 405.10 L528.87 404.97 L529.82 404.70 L534.56 402.53 L536.46 401.97 L537.41 401.90 L538.36 402.16 L539.31 402.59 L540.27 402.89 L541.24 402.88 L543.20 402.70 L549.15 401.60 L552.15 401.23 L562.14 401.22 L563.12 401.39 L567.00 402.58 L567.98 402.70 L568.96 402.65 L572.91 401.85 L574.50 401.70 L577.87 401.91 L582.86 402.58 L585.85 402.86 L587.84 402.89 L589.82 402.77 L599.78 401.47 L601.72 401.12 L602.64 400.78 L603.54 400.30 L607.05 397.94 L607.94 397.47 L608.84 397.15 L609.76 397.00 L610.72 397.03 L616.70 397.99 L618.68 398.09 L619.66 397.99 L621.60 397.50 L626.43 395.72 L627.39 395.48 L629.00 395.30 L630.26 395.42 L632.16 395.94 L636.90 397.90 L643.58 400.34 L645.50 400.89 L646.47 401.07 L648.10 401.20 L653.39 400.60 L654.34 400.68 L655.26 400.91 L657.07 401.69 L660.63 403.88 L662.44 404.86 L667.11 406.75 L669.97 407.67 L671.50 408.00 L673.86 408.33 L684.20 409.30 L693.77 410.63 L697.76 410.80 L704.77 410.57 L707.75 410.39 L708.73 410.24 L711.66 409.46 L713.62 409.11 L721.40 409.10 L722.51 409.40 L723.38 409.97 L725.11 411.31 L725.99 411.77 L726.91 411.90 L728.83 411.78 L730.83 411.52 L736.83 410.53 L742.73 409.43 L749.69 408.57 L753.68 408.31 L764.10 408.30" stroke="#e377c2" stroke-width="3.35" stroke-linecap="butt"/>
<path d="M100.7 223.7 L764.1 223.7" stroke="#000" stroke-width="3.35" stroke-dasharray="3.070 5.065"/>
<path d="M101.30 24.90 L103.50 24.60 L104.27 24.38 L105.50 23.80 L105.95 23.45 L106.57 22.70 L108.19 19.94 L108.79 19.16 L110.35 18.02 L112.26 17.09 L113.22 16.84 L114.14 16.84 L115.03 17.18 L116.79 18.34 L119.49 19.92 L120.40 20.34 L121.31 20.50 L122.24 20.28 L124.25 19.20 L124.93 18.77 L127.36 16.74 L128.21 16.31 L130.09 16.12 L134.75 16.00 L135.09 16.04 L135.96 16.47 L136.78 17.20 L138.10 18.75 L139.08 20.45 L140.36 23.25 L142.70 27.77 L143.75 29.25 L144.53 30.03 L146.20 31.23 L147.07 31.63 L149.95 32.60 L151.95 32.96 L152.93 33.00 L153.90 32.85 L156.79 31.91 L158.69 31.11 L159.63 30.82 L160.58 30.79 L162.51 31.62 L163.25 31.80 L164.20 31.53 L164.96 30.96 L165.69 30.18 L167.12 28.43 L169.89 25.36 L170.59 24.66 L171.50 24.00 L173.10 23.29 L175.04 22.67 L177.00 22.13 L182.00 21.00 L182.82 20.68 L186.42 18.66 L187.34 18.37 L188.00 18.30 L189.30 18.41 L191.23 18.82 L192.06 19.30 L194.34 21.51 L195.50 22.20 L196.98 22.54 L201.50 23.25 L203.93 23.96 L205.80 24.72 L206.75 25.20 L207.47 25.76 L208.96 27.48 L209.68 28.18 L210.43 28.50 L211.20 28.27 L213.56 26.07 L214.00 25.80 L216.33 24.76 L217.75 24.50 L218.23 24.58 L219.14 25.03 L223.71 27.43 L224.63 27.69 L225.25 27.75 L226.56 27.65 L227.56 27.46 L229.55 26.89 L231.39 26.19 L232.22 25.71 L233.01 25.10 L235.26 23.01 L238.05 20.13 L239.56 18.84 L241.99 17.08 L246.18 14.23 L247.05 13.76 L247.75 13.50 L248.92 13.25 L252.90 12.60 L255.78 11.67 L256.75 11.25 L257.52 10.78 L259.82 8.73 L260.62 8.13 L261.47 7.71 L263.38 7.01 L265.00 6.75 L267.41 6.99 L269.50 7.50 L270.14 7.79 L270.87 8.37 L271.56 9.11 L273.54 11.66 L274.75 12.75 L275.94 13.38 L279.86 14.83 L280.73 15.25 L281.49 15.74 L282.14 16.34 L283.28 17.86 L285.76 22.46 L286.75 24.00 L287.49 24.95 L291.25 29.25 L294.61 33.35 L295.31 34.04 L298.75 36.75 L300.96 39.71 L301.63 40.40 L302.39 40.99 L304.16 42.14 L305.11 42.55 L306.06 42.74 L307.01 42.70 L311.00 42.02 L316.00 42.00 L316.82 42.24 L317.59 42.85 L319.05 44.52 L319.83 45.24 L320.25 45.50 L321.63 46.02 L324.59 46.85 L325.50 47.25 L326.24 47.75 L326.97 48.42 L336.75 59.25 L339.12 62.16 L339.86 62.75 L340.67 63.03 L343.50 63.30 L344.36 62.97 L345.00 62.29 L347.25 58.50 L350.26 54.38 L352.14 52.06 L353.51 50.61 L358.56 45.74 L363.09 40.41 L364.54 39.03 L368.40 35.80 L369.86 34.44 L371.15 32.96 L376.42 25.50 L377.08 24.76 L377.79 24.14 L378.60 23.67 L381.75 22.50 L385.12 20.72 L386.04 20.38 L387.00 20.25 L387.93 20.34 L392.25 21.50 L397.80 22.06 L398.76 22.39 L401.59 23.76 L402.75 24.00 L403.32 23.87 L404.11 23.29 L405.61 21.58 L406.40 20.86 L407.24 20.50 L411.75 20.25 L412.18 20.30 L413.04 20.65 L413.86 21.25 L415.46 22.72 L416.30 23.35 L417.00 23.70 L419.16 24.38 L420.17 24.61 L421.50 24.75 L421.99 24.68 L422.81 24.29 L423.59 23.65 L426.49 20.44 L428.38 17.72 L429.06 17.08 L429.82 16.79 L435.82 16.38 L441.78 15.48" stroke="#7f7f7f" stroke-width="3.35" stroke-dasharray="11.359 4.912"/>
<path d="M445.75 15.00 L446.68 15.10 L447.60 15.47 L450.23 17.12 L452.62 19.30 L453.43 19.81 L454.25 20.00 L457.19 19.76 L469.19 18.13 L471.19 17.75 L475.27 16.68 L476.16 16.54 L476.94 16.52 L477.61 16.96 L478.22 17.79 L479.40 19.80 L481.40 22.42 L482.13 23.07 L482.93 23.24 L483.88 22.98 L485.75 22.13 L489.17 19.92 L490.06 19.55 L491.00 19.31 L492.99 18.90 L494.75 18.75 L497.91 19.50 L498.78 19.25 L499.62 18.56 L500.50 17.50 L500.83 16.92 L501.92 13.95 L502.25 13.50 L503.22 12.83 L504.16 12.40 L505.20 12.05 L506.75 11.70 L509.21 11.40 L511.22 11.26 L512.21 11.26 L514.19 11.85 L515.11 12.00 L515.94 11.65 L517.50 10.14 L518.32 9.48 L518.75 9.30 L521.23 8.79 L522.50 8.70 L523.14 8.78 L524.04 9.10 L524.90 9.62 L527.46 11.52 L538.50 18.39 L540.05 19.64 L543.60 23.32 L545.12 24.53 L548.67 26.39 L550.60 27.12 L552.56 27.49 L554.53 27.48 L558.61 27.30 L562.48 26.91 L563.37 26.57 L564.22 26.06 L566.71 24.05 L568.41 22.90 L569.30 22.55 L571.24 22.17 L573.30 21.88 L575.50 21.75 L576.15 21.86 L576.99 22.29 L579.43 24.37 L582.17 26.08 L583.10 26.59 L583.96 26.92 L584.71 26.98 L585.35 26.64 L585.92 25.97 L586.45 25.04 L587.96 21.70 L588.52 20.70 L589.14 19.93 L589.75 19.50 L590.78 19.11 L591.82 18.85 L592.80 18.75 L593.66 18.94 L594.49 19.40 L597.67 22.27 L602.72 25.68 L604.47 26.60 L608.18 27.86 L612.13 28.85 L615.12 29.23 L618.10 29.15 L624.10 28.52 L626.09 28.57 L628.13 28.98 L631.00 30.00 L631.70 30.37 L632.42 30.90 L633.75 32.27 L634.97 33.94 L637.34 37.56 L638.62 39.20 L639.32 39.92 L642.54 42.43 L644.35 43.44 L645.28 43.73 L646.21 43.79 L647.16 43.65 L650.13 42.83 L651.11 42.75 L652.10 42.88 L656.04 44.13 L656.94 44.25 L657.78 44.08 L658.60 43.60 L660.14 42.07 L662.81 38.94 L666.79 33.12 L669.40 29.98 L670.84 28.54 L672.00 27.75 L674.22 26.79 L676.18 26.16 L678.19 25.70 L682.14 25.24 L689.15 24.81 L697.13 24.19 L701.11 23.74 L704.09 23.29 L707.03 22.72 L708.94 22.20 L712.62 20.31 L714.47 19.62 L715.42 19.50 L726.00 19.50 L727.37 19.62 L729.28 20.12 L734.00 22.11 L740.56 24.61 L743.24 25.90 L746.59 28.14 L748.30 29.15 L752.06 30.94 L753.93 31.46 L754.82 31.47 L755.67 31.15 L758.97 28.52 L761.61 27.12 L764.10 26.00" stroke="#7f7f7f" stroke-width="3.35" stroke-dasharray="11.359 4.912"/>
</g>
<rect x="100.7" y="0.1" width="663.4" height="465.7" fill="none" stroke="#000" stroke-width="1.63"/>
<g stroke="#000" stroke-width="1.63" fill="none">
<path d="M100.70 465.8 V472.95"/>
<path d="M183.62 465.8 V472.95"/>
<path d="M266.55 465.8 V472.95"/>
<path d="M349.47 465.8 V472.95"/>
<path d="M432.40 465.8 V472.95"/>
<path d="M515.33 465.8 V472.95"/>
<path d="M598.25 465.8 V472.95"/>
<path d="M681.18 465.8 V472.95"/>
<path d="M764.10 465.8 V472.95"/>
<path d="M100.7 59.00 H93.55"/>
<path d="M100.7 253.00 H93.55"/>
<path d="M100.7 447.00 H93.55"/>
</g>
<g stroke="#000" stroke-width="1.23" fill="none">
<path d="M100.7 0.60 H96.60"/>
<path d="M100.7 194.60 H96.60"/>
<path d="M100.7 160.44 H96.60"/>
<path d="M100.7 136.20 H96.60"/>
<path d="M100.7 117.40 H96.60"/>
<path d="M100.7 102.04 H96.60"/>
<path d="M100.7 89.05 H96.60"/>
<path d="M100.7 77.80 H96.60"/>
<path d="M100.7 67.88 H96.60"/>
<path d="M100.7 388.60 H96.60"/>
<path d="M100.7 354.44 H96.60"/>
<path d="M100.7 330.20 H96.60"/>
<path d="M100.7 311.40 H96.60"/>
<path d="M100.7 296.04 H96.60"/>
<path d="M100.7 283.05 H96.60"/>
<path d="M100.7 271.80 H96.60"/>
<path d="M100.7 261.88 H96.60"/>
<path d="M100.7 465.80 H96.60"/>
<path d="M100.7 455.88 H96.60"/>
</g>
<g font-family='"Liberation Serif", "DejaVu Serif", serif' font-size="24.5" fill="#000" stroke="#000" stroke-width="0.3" stroke-linejoin="round">
<text x="100.70" y="497.6" text-anchor="middle">0</text>
<text x="183.62" y="497.6" text-anchor="middle">20000</text>
<text x="266.55" y="497.6" text-anchor="middle">40000</text>
<text x="349.47" y="497.6" text-anchor="middle">60000</text>
<text x="432.40" y="497.6" text-anchor="middle">80000</text>
<text x="515.33" y="497.6" text-anchor="middle">100000</text>
<text x="598.25" y="497.6" text-anchor="middle">120000</text>
<text x="681.18" y="497.6" text-anchor="middle">140000</text>
<text x="764.10" y="497.6" text-anchor="middle">160000</text>
<text x="51.8" y="70.70">10<tspan font-size="17.4" x="77.1" dy="-15.2">0</tspan></text>
<text x="41.9" y="264.70">10<tspan font-size="17.4" x="65.7" dy="-15.2">−1</tspan></text>
<text x="42.1" y="458.70">10<tspan font-size="17.4" x="65.6" dy="-15.2">−2</tspan></text>
<text y="525.8"><tspan font-style="italic" x="413.1">t</tspan><tspan x="419.3">/</tspan><tspan x="427.2">Δ</tspan><tspan font-style="italic" x="444.3">t</tspan></text>
<text transform="translate(24.6 233.5) rotate(-90)"><tspan x="-21.8" dy="-3.2" font-size="18.7" font-weight="bold">|</tspan><tspan x="-17.26" dy="3.2" font-style="italic">δ</tspan>(<tspan font-style="italic">t</tspan>)<tspan x="17.65" dy="-3.2" font-size="18.7" font-weight="bold">|</tspan></text>
</g>
<rect x="503" y="13" width="249" height="221" rx="4.9" ry="4.9" fill="#fff" fill-opacity="0.8" stroke="#ccc" stroke-opacity="0.8" stroke-width="2.04"/>
<path d="M511.4 32.6 H564.0" stroke="#1f77b4" stroke-width="3.35"/>
<path d="M511.4 69.6 H564.0" stroke="#ff7f0e" stroke-width="3.35"/>
<path d="M511.4 106.6 H564.0" stroke="#2ca02c" stroke-width="3.35"/>
<path d="M511.4 141.9 H564.0" stroke="#e377c2" stroke-width="3.35"/>
<path d="M513.0 176.8 H562.4" stroke="#000" stroke-width="3.35" stroke-dasharray="3.070 5.265"/>
<path d="M513.0 211.6 H562.4" stroke="#7f7f7f" stroke-width="3.35" stroke-dasharray="11.359 4.912"/>
<g font-family='"Liberation Serif", "DejaVu Serif", serif' font-size="24.5" fill="#000" stroke="#000" stroke-width="0.3" stroke-linejoin="round">
<text x="582.0" y="39.8">LETKF (<tspan font-style="italic" dx="-0.3">M</tspan><tspan dx="-0.5">=4)</tspan></text>
<text x="582.0" y="76.4">LETKF (<tspan font-style="italic" dx="-0.3">M</tspan><tspan dx="-0.5">=16)</tspan></text>
<text x="582.0" y="113.3">LETKF (<tspan font-style="italic" dx="-0.3">M</tspan><tspan dx="-0.5">=64)</tspan></text>
<text x="582.0" y="151">Nudging</text>
<text x="582.0" y="185.8">Observation</text>
<text x="582.0" y="220.3">Non-DA</text>
</g>
</svg>
</body></html>
